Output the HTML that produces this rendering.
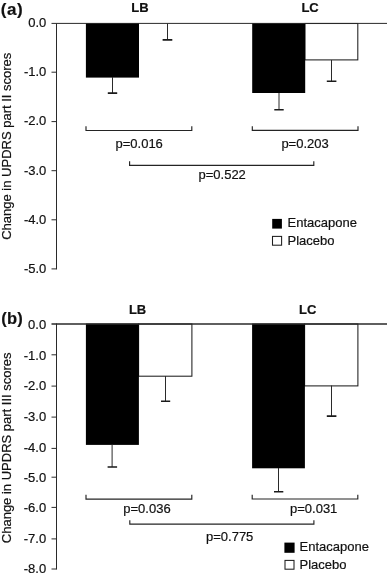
<!DOCTYPE html>
<html>
<head>
<meta charset="utf-8">
<title>Change in UPDRS scores</title>
<style>
html,body{margin:0;padding:0;background:#fff;}
body{width:388px;height:578px;overflow:hidden;}
svg{display:block;}
text{font-family:"Liberation Sans",Arial,Helvetica,sans-serif;font-size:13px;fill:#111;stroke:#111;stroke-width:0.2px;}
.b{font-weight:bold;font-size:13px;}
.pl{font-weight:bold;font-size:16px;}
.ln{stroke:#2a2a2a;stroke-width:1;fill:none;}
.br{stroke:#242424;stroke-width:1.15;fill:none;}
.cap{stroke:#1a1a1a;stroke-width:1.6;fill:none;}
.bk{fill:#000;}
.wh{fill:#fff;stroke:#1e1e1e;stroke-width:1.05;}
</style>
</head>
<body>
<svg width="388" height="578" viewBox="0 0 388 578">
<rect width="388" height="578" fill="#fff"/>

<!-- ================= Panel (a) ================= -->
<g id="panel-a">
<text class="pl" x="0.8" y="15" style="font-size:17px;letter-spacing:0.5px">(a)</text>
<text class="b" x="131.2" y="12.3">LB</text>
<text class="b" x="301.4" y="12.3">LC</text>

<!-- bars -->
<rect class="bk" x="85.9" y="23" width="53.1" height="54.6"/>
<rect class="wh" x="304.9" y="23.5" width="52.9" height="36.4"/>
<rect class="bk" x="252.2" y="23" width="53" height="70"/>

<!-- axes -->
<path class="ln" d="M51.5 23.4H387"/>
<path class="ln" d="M56.5 23.5V269.4"/>
<path class="ln" d="M51.5 72.2H56.5M51.5 121.6H56.5M51.5 170.7H56.5M51.5 219.8H56.5M51.5 268.9H56.5"/>

<!-- error bars -->
<path class="ln" d="M112.5 77V93.5M167.5 23.5V40M279 93V110M331.5 60V81"/>
<path class="cap" d="M107.8 93.1H117.2M162.6 39.9H172.3M274.3 109.8H283.7M326.8 81.2H336.4"/>

<!-- brackets -->
<path class="br" d="M86 126.2V130.5H191.8V126.2"/>
<path class="br" d="M252.3 126.2V130.4H358V126.2"/>
<path class="br" d="M129.6 161.2V165.4H313.8V161.2"/>

<text x="115.5" y="148.1">p=0.016</text>
<text x="281.4" y="148.1">p=0.203</text>
<text x="198.5" y="178.8">p=0.522</text>

<!-- y tick labels -->
<g text-anchor="end">
<text x="46.3" y="26.6">0.0</text>
<text x="46.3" y="76.3">-1.0</text>
<text x="46.3" y="125.3">-2.0</text>
<text x="46.3" y="174.5">-3.0</text>
<text x="46.3" y="223.5">-4.0</text>
<text x="46.3" y="272.6">-5.0</text>
</g>
<text transform="translate(10.6 239.8) rotate(-90)" x="0" y="0">Change in UPDRS part II scores</text>

<!-- legend -->
<rect class="bk" x="272.2" y="218.9" width="9.7" height="9.7"/>
<rect class="wh" x="272.5" y="236.4" width="9.1" height="8.8"/>
<text x="287.5" y="227.2">Entacapone</text>
<text x="287.5" y="244.5">Placebo</text>
</g>

<!-- ================= Panel (b) ================= -->
<g id="panel-b">
<text class="pl" x="1.2" y="323.7" style="font-size:16.5px;letter-spacing:0.2px">(b)</text>
<text class="b" x="128.9" y="313.8">LB</text>
<text class="b" x="299.1" y="313.8">LC</text>

<!-- bars -->
<rect class="wh" x="138.6" y="324" width="53.3" height="52.2"/>
<rect class="wh" x="304.6" y="324" width="53.3" height="61.9"/>
<rect class="bk" x="85.9" y="323.6" width="53" height="121.3"/>
<rect class="bk" x="252.1" y="323.6" width="52.8" height="144.7"/>

<!-- axes -->
<path class="ln" d="M51.5 324H387" style="stroke-width:1.4"/>
<path class="ln" d="M56.5 323.5V569.5"/>
<path class="ln" d="M51.5 354.8H56.5M51.5 386.1H56.5M51.5 417.1H56.5M51.5 448.4H56.5M51.5 477.2H56.5M51.5 507.4H56.5M51.5 538.9H56.5M51.5 569.0H56.5"/>

<!-- error bars -->
<path class="ln" d="M112.1 444.5V467M165.5 376V401.5M278.5 468V492M331.5 385.5V416"/>
<path class="cap" d="M107.6 467H117.1M161 401.3H170.2M274 491.8H283.3M326.8 416.1H336.4"/>

<!-- brackets -->
<path class="br" d="M86 494.8V499.1H191.8V494.8"/>
<path class="br" d="M252.2 494.8V499H357.8V494.8"/>
<path class="br" d="M129.8 520.3V524.1H313.9V520.3"/>

<text x="123.3" y="513.2">p=0.036</text>
<text x="290" y="513.2">p=0.031</text>
<text x="206" y="541.4">p=0.775</text>

<!-- y tick labels -->
<g text-anchor="end">
<text x="46.2" y="328.6">0.0</text>
<text x="46.2" y="359.5">-1.0</text>
<text x="46.2" y="390.2">-2.0</text>
<text x="46.2" y="421.1">-3.0</text>
<text x="46.2" y="452.1">-4.0</text>
<text x="46.2" y="482.0">-5.0</text>
<text x="46.2" y="512.4">-6.0</text>
<text x="46.2" y="542.9">-7.0</text>
<text x="46.2" y="573.1">-8.0</text>
</g>
<text transform="translate(10.6 543.2) rotate(-90)" x="0" y="0">Change in UPDRS part III scores</text>

<!-- legend -->
<rect class="bk" x="284.4" y="542.6" width="10.2" height="10.2"/>
<rect class="wh" x="285" y="560.4" width="9" height="8.8"/>
<text x="299.5" y="551.2">Entacapone</text>
<text x="299.5" y="568.5">Placebo</text>
</g>
</svg>
</body>
</html>
